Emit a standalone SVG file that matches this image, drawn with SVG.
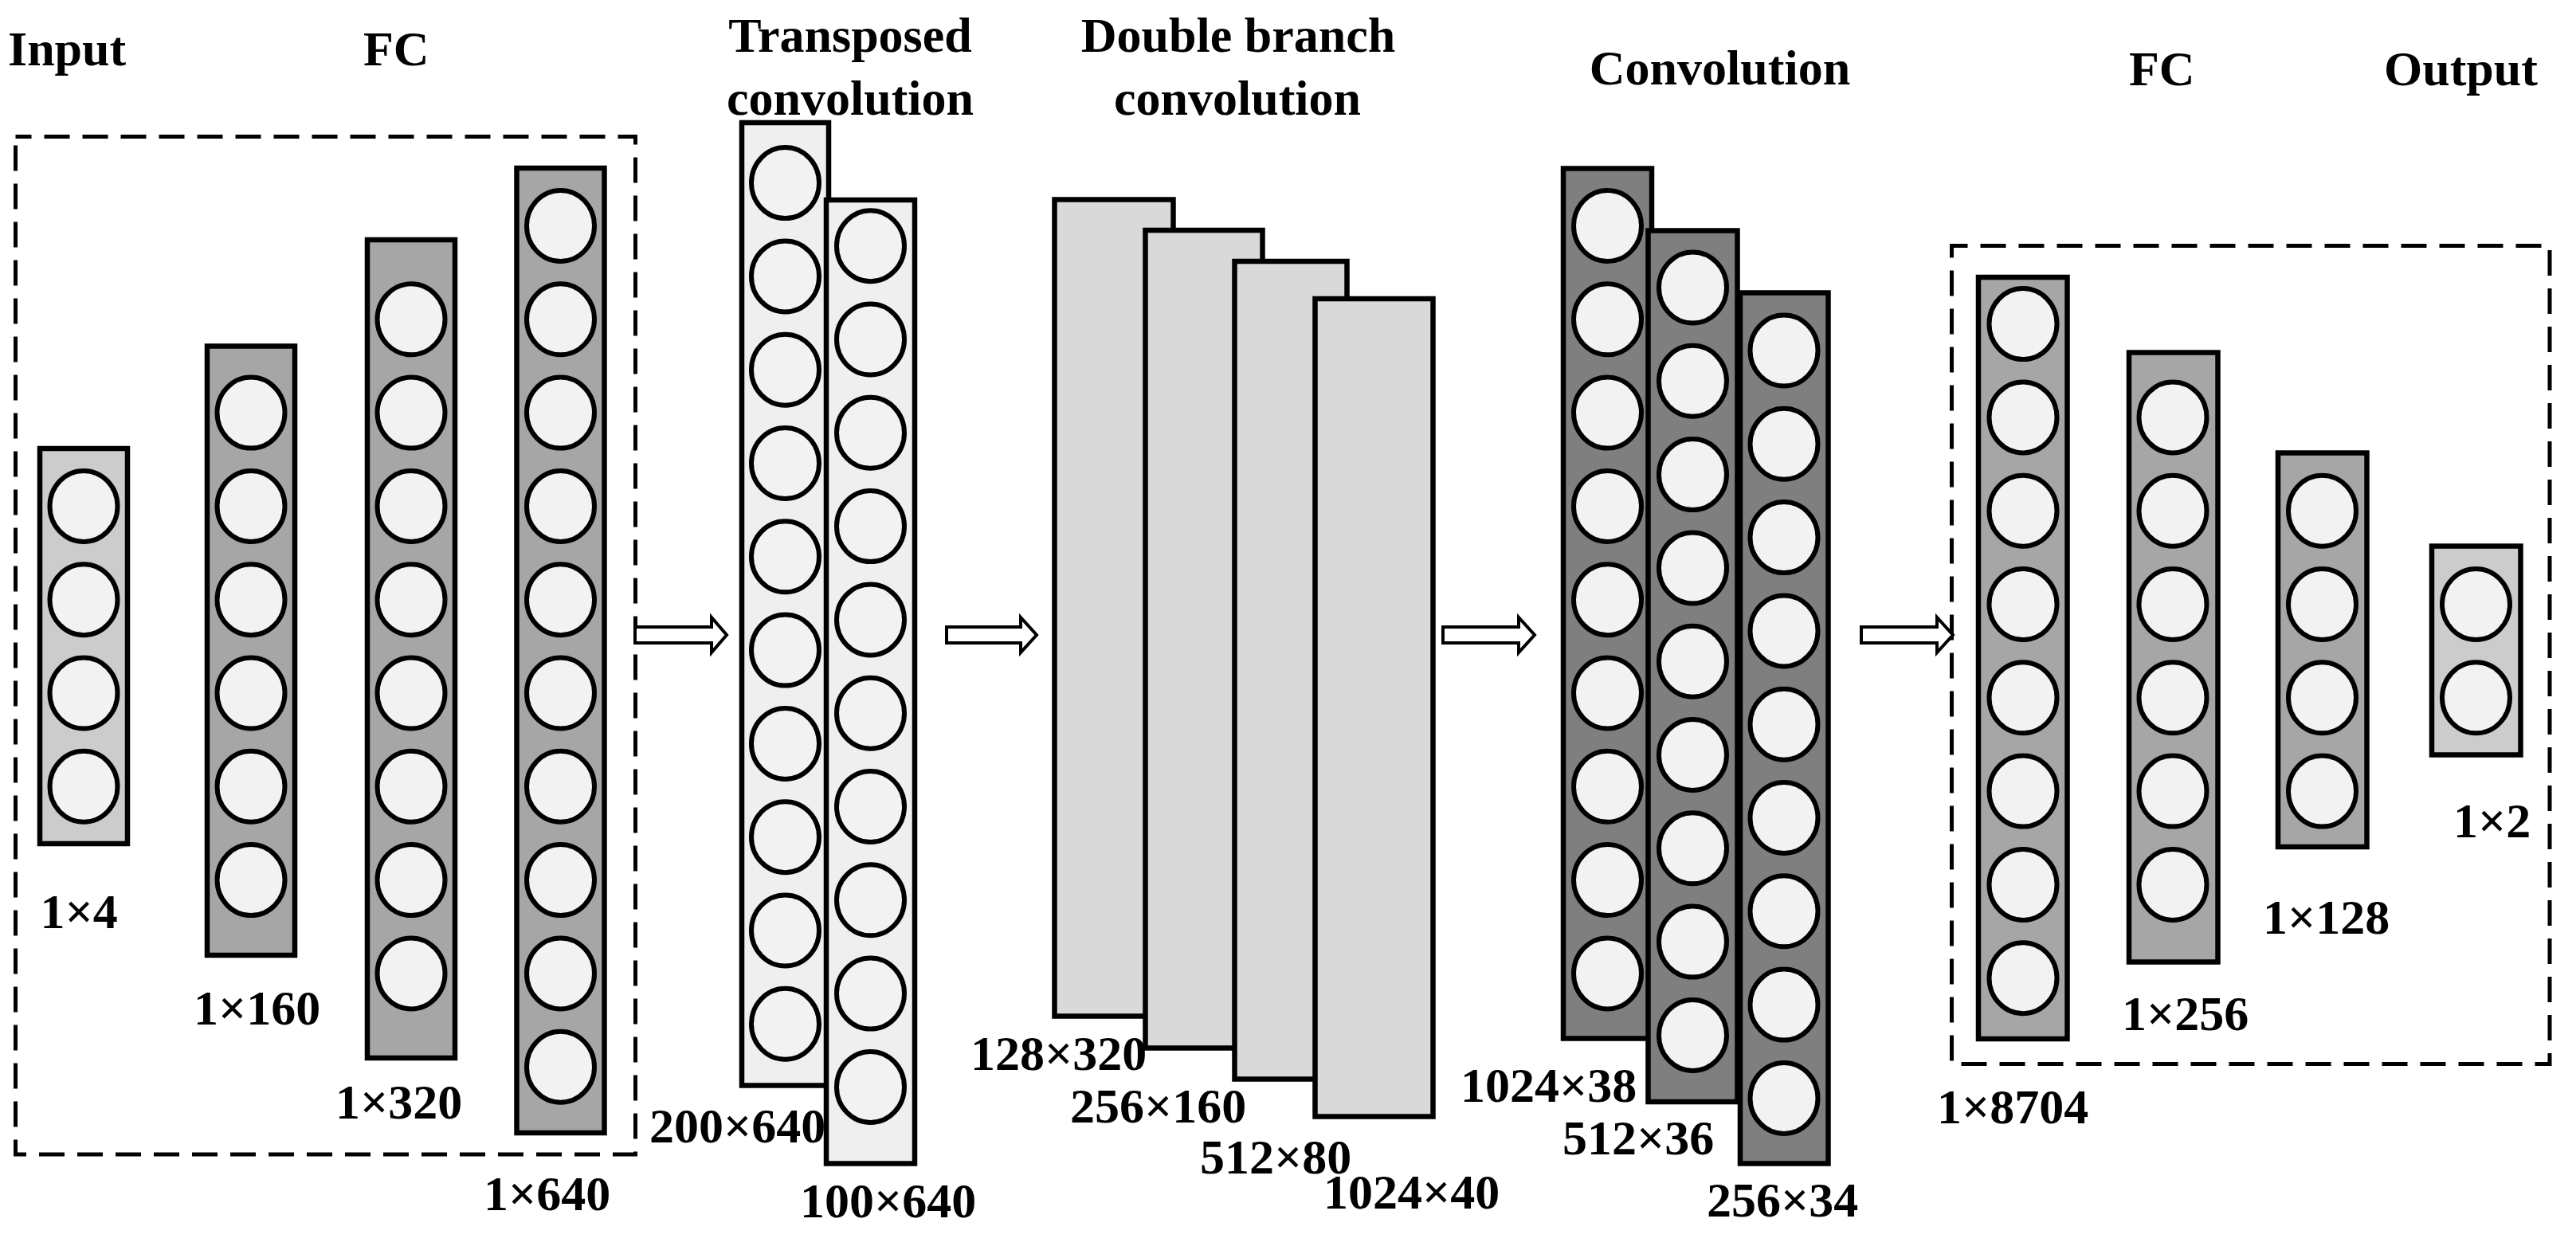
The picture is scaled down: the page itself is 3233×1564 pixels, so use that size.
<svg xmlns="http://www.w3.org/2000/svg" xmlns:xlink="http://www.w3.org/1999/xlink" width="3233" height="1564" viewBox="0 0 3233 1564">
<style>
.bx{stroke:#000;stroke-width:6.5}
.fc{fill:#a6a6a6}
.inp{fill:#cccccc}
.tr{fill:#efefef}
.db{fill:#d9d9d9}
.cv{fill:#7f7f7f}
.n{fill:#f2f2f2;stroke:#000;stroke-width:6}
.dash{fill:none;stroke:#000;stroke-width:5;stroke-dasharray:32 16;stroke-dashoffset:12}
.arr{fill:#fff;stroke:#000;stroke-width:4;stroke-linejoin:miter}
text{font-family:"Liberation Serif","Times New Roman",serif;font-weight:bold;font-size:62px;fill:#000}
</style>
<defs>
<ellipse id="c" rx="42.5" ry="44.5" class="n"/>
</defs>
<rect class="dash" x="19.5" y="171.5" width="778" height="1277.5"/>
<rect class="dash" x="2449.5" y="308.5" width="750.5" height="1027"/>

<g id="input">
<rect class="bx inp" x="50" y="563" width="110" height="496"/>
<use xlink:href="#c" x="105" y="635.4"/><use xlink:href="#c" x="105" y="752.7"/><use xlink:href="#c" x="105" y="870"/><use xlink:href="#c" x="105" y="987.3"/>
<text x="50.5" y="1165">1×4</text>
</g>
<g id="fc1">
<rect class="bx fc" x="260" y="434.5" width="110" height="764.5"/>
<use xlink:href="#c" x="315" y="518.1"/><use xlink:href="#c" x="315" y="635.4"/><use xlink:href="#c" x="315" y="752.7"/><use xlink:href="#c" x="315" y="870"/><use xlink:href="#c" x="315" y="987.3"/><use xlink:href="#c" x="315" y="1104.6"/>
<text x="243" y="1286">1×160</text>
</g>
<g id="fc2">
<rect class="bx fc" x="461" y="301" width="110" height="1027"/>
<use xlink:href="#c" x="516" y="400.8"/><use xlink:href="#c" x="516" y="518.1"/><use xlink:href="#c" x="516" y="635.4"/><use xlink:href="#c" x="516" y="752.7"/><use xlink:href="#c" x="516" y="870"/><use xlink:href="#c" x="516" y="987.3"/><use xlink:href="#c" x="516" y="1104.6"/><use xlink:href="#c" x="516" y="1221.9"/>
<text x="421" y="1404">1×320</text>
</g>
<g id="fc3">
<rect class="bx fc" x="648.5" y="211" width="110" height="1211"/>
<use xlink:href="#c" x="703.5" y="283.5"/><use xlink:href="#c" x="703.5" y="400.8"/><use xlink:href="#c" x="703.5" y="518.1"/><use xlink:href="#c" x="703.5" y="635.4"/><use xlink:href="#c" x="703.5" y="752.7"/><use xlink:href="#c" x="703.5" y="870"/><use xlink:href="#c" x="703.5" y="987.3"/><use xlink:href="#c" x="703.5" y="1104.6"/><use xlink:href="#c" x="703.5" y="1221.9"/><use xlink:href="#c" x="703.5" y="1339.2"/>
<text x="607" y="1519">1×640</text>
</g>

<g id="tconv1">
<rect class="bx tr" x="931" y="154" width="109" height="1208.5"/>
<use xlink:href="#c" x="985.5" y="229.6"/><use xlink:href="#c" x="985.5" y="346.9"/><use xlink:href="#c" x="985.5" y="464.2"/><use xlink:href="#c" x="985.5" y="581.5"/><use xlink:href="#c" x="985.5" y="698.8"/><use xlink:href="#c" x="985.5" y="816.1"/><use xlink:href="#c" x="985.5" y="933.4"/><use xlink:href="#c" x="985.5" y="1050.7"/><use xlink:href="#c" x="985.5" y="1168"/><use xlink:href="#c" x="985.5" y="1285.3"/>
</g>
<g id="tconv2">
<rect class="bx tr" x="1037" y="251" width="111" height="1209.5"/>
<use xlink:href="#c" x="1092.5" y="308.7"/><use xlink:href="#c" x="1092.5" y="426"/><use xlink:href="#c" x="1092.5" y="543.3"/><use xlink:href="#c" x="1092.5" y="660.6"/><use xlink:href="#c" x="1092.5" y="777.9"/><use xlink:href="#c" x="1092.5" y="895.2"/><use xlink:href="#c" x="1092.5" y="1012.5"/><use xlink:href="#c" x="1092.5" y="1129.8"/><use xlink:href="#c" x="1092.5" y="1247.1"/><use xlink:href="#c" x="1092.5" y="1364.4"/>
</g>
<text x="815" y="1433.5">200×640</text>
<text x="1004" y="1528">100×640</text>

<g id="dconv1"><rect class="bx db" x="1323.5" y="250.5" width="149" height="1025"/></g>
<g id="dconv2"><rect class="bx db" x="1437.5" y="289" width="147" height="1026.5"/></g>
<g id="dconv3"><rect class="bx db" x="1549.5" y="328" width="141" height="1026.5"/></g>
<g id="dconv4"><rect class="bx db" x="1650.5" y="375" width="148" height="1026.5"/></g>
<text x="1218" y="1343">128×320</text>
<text x="1343" y="1409">256×160</text>
<text x="1506" y="1473">512×80</text>
<text x="1661" y="1516.5">1024×40</text>

<g id="conv1">
<rect class="bx cv" x="1962" y="211.5" width="111" height="1092"/>
<use xlink:href="#c" x="2017.5" y="283.5"/><use xlink:href="#c" x="2017.5" y="400.8"/><use xlink:href="#c" x="2017.5" y="518.1"/><use xlink:href="#c" x="2017.5" y="635.4"/><use xlink:href="#c" x="2017.5" y="752.7"/><use xlink:href="#c" x="2017.5" y="870"/><use xlink:href="#c" x="2017.5" y="987.3"/><use xlink:href="#c" x="2017.5" y="1104.6"/><use xlink:href="#c" x="2017.5" y="1221.9"/>
</g>
<g id="conv2">
<rect class="bx cv" x="2068.5" y="289.5" width="112" height="1093.5"/>
<use xlink:href="#c" x="2124.5" y="361"/><use xlink:href="#c" x="2124.5" y="478.3"/><use xlink:href="#c" x="2124.5" y="595.6"/><use xlink:href="#c" x="2124.5" y="712.9"/><use xlink:href="#c" x="2124.5" y="830.2"/><use xlink:href="#c" x="2124.5" y="947.5"/><use xlink:href="#c" x="2124.5" y="1064.8"/><use xlink:href="#c" x="2124.5" y="1182.1"/><use xlink:href="#c" x="2124.5" y="1299.4"/>
</g>
<g id="conv3">
<rect class="bx cv" x="2184" y="367.5" width="110.5" height="1093"/>
<use xlink:href="#c" x="2239" y="440"/><use xlink:href="#c" x="2239" y="557.3"/><use xlink:href="#c" x="2239" y="674.6"/><use xlink:href="#c" x="2239" y="791.9"/><use xlink:href="#c" x="2239" y="909.2"/><use xlink:href="#c" x="2239" y="1026.5"/><use xlink:href="#c" x="2239" y="1143.8"/><use xlink:href="#c" x="2239" y="1261.1"/><use xlink:href="#c" x="2239" y="1378.4"/>
</g>
<text x="1833" y="1383">1024×38</text>
<text x="1961" y="1449">512×36</text>
<text x="2142" y="1527">256×34</text>

<g id="fc4">
<rect class="bx fc" x="2483" y="348" width="111.5" height="956"/>
<use xlink:href="#c" x="2539" y="406.6"/><use xlink:href="#c" x="2539" y="523.9"/><use xlink:href="#c" x="2539" y="641.2"/><use xlink:href="#c" x="2539" y="758.5"/><use xlink:href="#c" x="2539" y="875.8"/><use xlink:href="#c" x="2539" y="993.1"/><use xlink:href="#c" x="2539" y="1110.4"/><use xlink:href="#c" x="2539" y="1227.7"/>
<text x="2431" y="1410">1×8704</text>
</g>
<g id="fc5">
<rect class="bx fc" x="2672" y="442.5" width="111.5" height="765"/>
<use xlink:href="#c" x="2727" y="523.9"/><use xlink:href="#c" x="2727" y="641.2"/><use xlink:href="#c" x="2727" y="758.5"/><use xlink:href="#c" x="2727" y="875.8"/><use xlink:href="#c" x="2727" y="993.1"/><use xlink:href="#c" x="2727" y="1110.4"/>
<text x="2663" y="1293">1×256</text>
</g>
<g id="fc6">
<rect class="bx fc" x="2859" y="568.5" width="111.5" height="494.5"/>
<use xlink:href="#c" x="2914.5" y="641.2"/><use xlink:href="#c" x="2914.5" y="758.5"/><use xlink:href="#c" x="2914.5" y="875.8"/><use xlink:href="#c" x="2914.5" y="993.1"/>
<text x="2840" y="1172">1×128</text>
</g>
<g id="output">
<rect class="bx inp" x="3052" y="685.5" width="111.5" height="262"/>
<use xlink:href="#c" x="3107.5" y="758.5"/><use xlink:href="#c" x="3107.5" y="875.8"/>
<text x="3079" y="1051">1×2</text>
</g>

<g id="connectors">
<polygon class="arr" points="797,787 893,787 893,775 912,797 893,819 893,807 797,807"/>
<polygon class="arr" points="1188,787 1281,787 1281,775 1301,797 1281,819 1281,807 1188,807"/>
<polygon class="arr" points="1811,787 1906,787 1906,775 1926,797 1906,819 1906,807 1811,807"/>
<polygon class="arr" points="2336,787 2431,787 2431,775 2451,797 2431,819 2431,807 2336,807"/>
</g>

<g id="titles">
<text x="10" y="81.5">Input</text>
<text x="456" y="81.5">FC</text>
<text x="1067" y="65" text-anchor="middle">Transposed</text>
<text x="1067" y="144" text-anchor="middle">convolution</text>
<text x="1554" y="65" text-anchor="middle">Double branch</text>
<text x="1553" y="144" text-anchor="middle">convolution</text>
<text x="2158.5" y="106" text-anchor="middle">Convolution</text>
<text x="2672" y="107">FC</text>
<text x="2992" y="107">Output</text>
</g>
</svg>
